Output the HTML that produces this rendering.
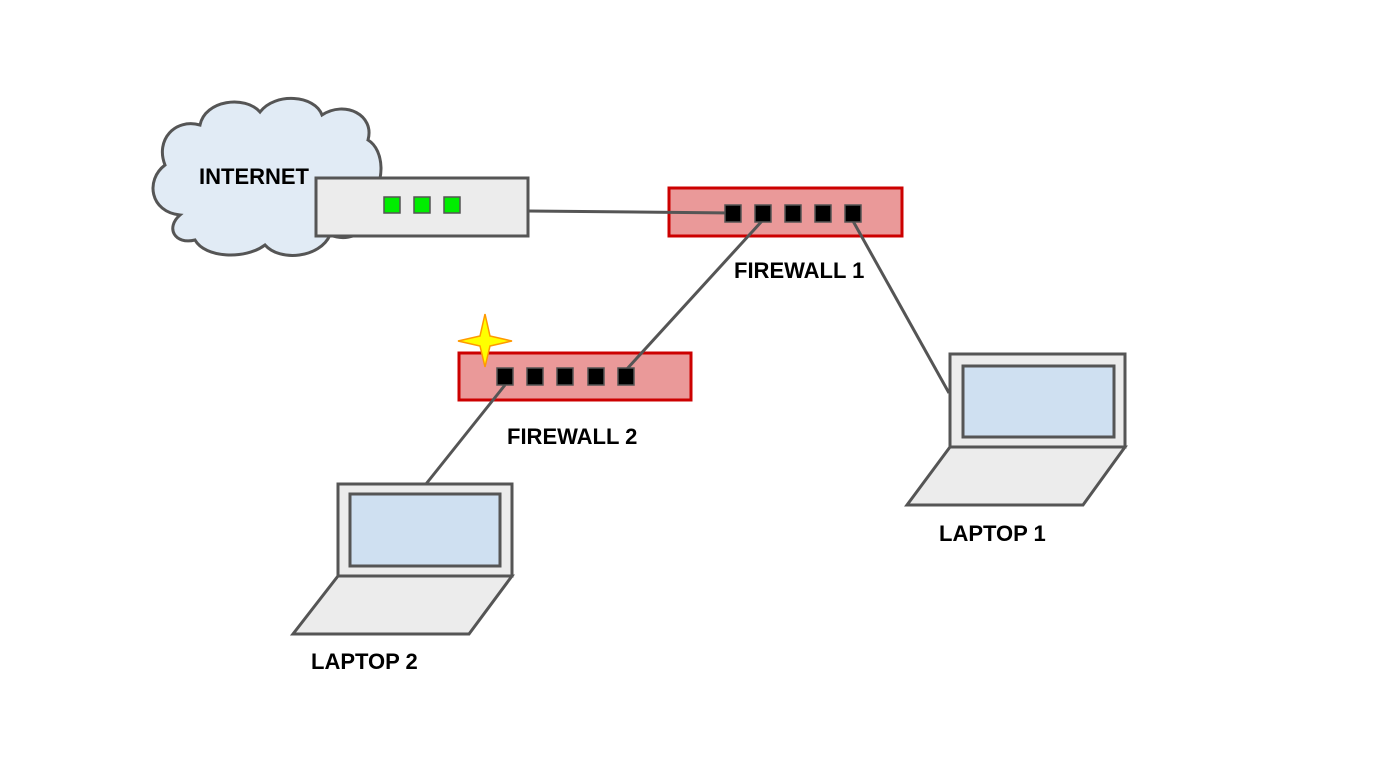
<!DOCTYPE html>
<html><head><meta charset="utf-8"><style>
html,body{margin:0;padding:0;background:#fff;width:1400px;height:762px;overflow:hidden}
text{font-family:"Liberation Sans",sans-serif;font-weight:bold;font-size:22px;fill:#000}
</style></head><body>
<svg width="1400" height="762" viewBox="0 0 1400 762" xmlns="http://www.w3.org/2000/svg">
<!-- cloud -->
<path d="M180,215 C150,212 145,180 165,165 C155,140 175,118 200,125 C205,100 245,95 260,112 C275,92 315,95 322,115 C345,100 375,115 368,140 C385,150 385,185 370,195 C380,225 355,245 330,235 C320,258 280,262 265,245 C245,260 205,258 195,240 C175,245 165,228 180,215 Z" fill="#e1ebf5" stroke="#555" stroke-width="3"/>
<text x="199" y="184">INTERNET</text>
<!-- modem -->
<rect x="316" y="178" width="212" height="58" fill="#ececec" stroke="#555" stroke-width="3"/>
<g fill="#00ee00" stroke="#555" stroke-width="1.5">
<rect x="384" y="197" width="16" height="16"/><rect x="414" y="197" width="16" height="16"/><rect x="444" y="197" width="16" height="16"/>
</g>
<!-- firewall boxes -->
<rect x="669" y="188" width="233" height="48" fill="#ea9999" stroke="#cc0000" stroke-width="3"/>
<rect x="459" y="353" width="232" height="47" fill="#ea9999" stroke="#cc0000" stroke-width="3"/>
<!-- laptop 1 -->
<rect x="950" y="354" width="175" height="93" fill="#ececec" stroke="#555" stroke-width="3"/>
<rect x="963" y="366" width="151" height="71" fill="#cfe0f1" stroke="#555" stroke-width="3"/>
<polygon points="950,447 1125,447 1083,505 907,505" fill="#ececec" stroke="#555" stroke-width="3"/>
<!-- laptop 2 -->
<rect x="338" y="484" width="174" height="92" fill="#ececec" stroke="#555" stroke-width="3"/>
<rect x="350" y="494" width="150" height="72" fill="#cfe0f1" stroke="#555" stroke-width="3"/>
<polygon points="338,576 512,576 469,634 293,634" fill="#ececec" stroke="#555" stroke-width="3"/>
<!-- connectors -->
<g stroke="#555" stroke-width="3" fill="none">
<line x1="528" y1="211" x2="733" y2="213"/>
<line x1="762" y1="221" x2="626" y2="370"/>
<line x1="853" y1="221" x2="949" y2="393"/>
<line x1="505" y1="385" x2="426" y2="484"/>
</g>
<!-- ports -->
<g fill="#000" stroke="#555" stroke-width="1.5">
<rect x="725" y="205" width="16" height="17"/><rect x="755" y="205" width="16" height="17"/><rect x="785" y="205" width="16" height="17"/><rect x="815" y="205" width="16" height="17"/><rect x="845" y="205" width="16" height="17"/>
<rect x="497" y="368" width="16" height="17"/><rect x="527" y="368" width="16" height="17"/><rect x="557" y="368" width="16" height="17"/><rect x="588" y="368" width="16" height="17"/><rect x="618" y="368" width="16" height="17"/>
</g>
<path d="M485,314 L490,336 L512,341 L490,346 L485,367 L480,346 L458,341 L480,336 Z" fill="#ffff00" stroke="#ff9900" stroke-width="1.5"/>
<text x="734" y="278">FIREWALL 1</text>
<text x="507" y="444">FIREWALL 2</text>
<text x="939" y="541">LAPTOP 1</text>
<text x="311" y="669">LAPTOP 2</text>
</svg>
</body></html>
